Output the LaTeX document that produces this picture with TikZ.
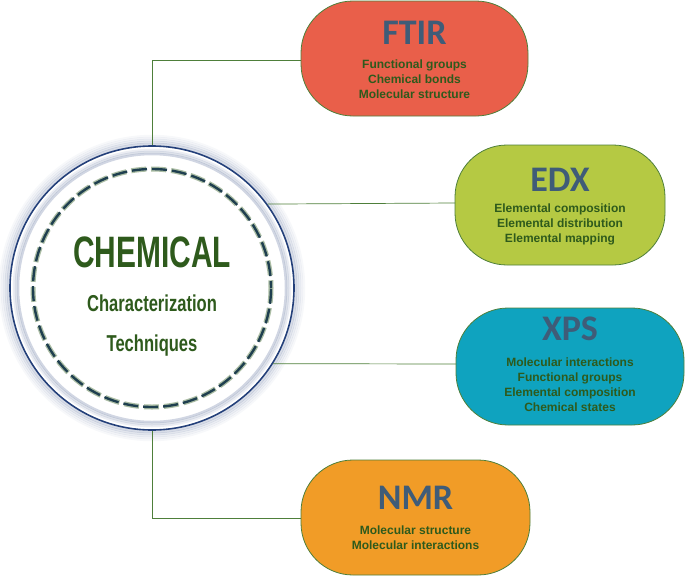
\documentclass[tikz,border=0pt]{standalone}
\usepackage{fontspec}
\setmainfont{Liberation Sans}
\newfontfamily\carl{Carlito}
\definecolor{ftir}{HTML}{E95F4A}
\definecolor{edx}{HTML}{B5C943}
\definecolor{xps}{HTML}{0FA3BF}
\definecolor{nmr}{HTML}{F19C27}
\definecolor{ttl}{HTML}{3F5C78}
\definecolor{itm}{HTML}{2E5A1C}
\definecolor{ring}{HTML}{24407A}
\definecolor{conn}{HTML}{4E7F3A}
\definecolor{dash}{HTML}{1F3F4F}
\begin{document}
\begin{tikzpicture}[x=1pt,y=-1pt,
  ttlstyle/.style={font=\carl\bfseries\fontsize{36}{38}\selectfont,text=ttl},
  items/.style={font=\bfseries\fontsize{12}{15}\selectfont,text=itm,align=center},
  link/.style={conn,line width=0.7pt}]
\useasboundingbox (0,0) rectangle (685,576);
% boxes
\filldraw[ftir,draw=conn,line width=0.8pt,rounded corners=52pt] (301,1) rectangle (528,116);
\filldraw[edx,draw=conn,line width=0.8pt,rounded corners=52pt] (455,145) rectangle (665,265);
\filldraw[xps,draw=conn,line width=0.8pt,rounded corners=52pt] (456,308) rectangle (684,425);
\filldraw[nmr,draw=conn,line width=0.8pt,rounded corners=52pt] (301,460) rectangle (530,575);
\node[ttlstyle] (t1) at (414.5,33) {FTIR};
\node[items] (i1) at (414.5,79) {Functional groups\\Chemical bonds\\Molecular structure};
\node[ttlstyle] (t2) at (560,180) {EDX};
\node[items] (i2) at (560,224) {Elemental composition\\Elemental distribution\\Elemental mapping};
\node[ttlstyle] (t3) at (570,329) {XPS};
\node[items] (i3) at (570,385) {Molecular interactions\\Functional groups\\Elemental composition\\Chemical states};
\node[ttlstyle] (t4) at (415.5,498) {NMR};
\node[items] (i4) at (415.5,538) {Molecular structure\\Molecular interactions};
% circle glow
\foreach \r/\o in {152/0.06,150/0.1,148/0.15,146/0.22,144/0.3}
  \draw[color=ring!60!white,line width=2.5pt,opacity=\o] (152,288) circle (\r);
\node[circle,draw=ring,line width=1.6pt,fill=white,minimum size=284pt,inner sep=0pt] (c) at (152,288) {};
\foreach \r/\o in {138/0.15,136/0.25,134/0.35}
  \draw[color=ring!60!white,line width=2.5pt,opacity=\o] (152,288) circle (\r);
\draw[color=itm!40!white,line width=5pt,dash pattern=on 15pt off 5pt] (152,288) circle (119);
\draw[color=dash,line width=2.4pt,dash pattern=on 15pt off 5pt,dash phase=-0.8pt] (152,288) circle (119);
\node[font=\bfseries\fontsize{44}{46}\selectfont,text=itm,xscale=0.68] (h1) at (152,252) {CHEMICAL};
\node[font=\bfseries\fontsize{23}{25}\selectfont,text=itm,xscale=0.72] (h2) at (152,303) {Characterization};
\node[font=\bfseries\fontsize{23}{25}\selectfont,text=itm,xscale=0.72] (h3) at (152,346) {Techniques};
% connectors
\coordinate (b1) at (301,60);
\coordinate (b2) at (455,203);
\coordinate (b3) at (456,364);
\coordinate (b4) at (301,518);
\draw[link] (c.north) |- (b1);
\draw[link] (c.36.8) -- (b2);
\draw[link] (c.-32.4) -- (b3);
\draw[link] (c.south) |- (b4);
\end{tikzpicture}
\end{document}
